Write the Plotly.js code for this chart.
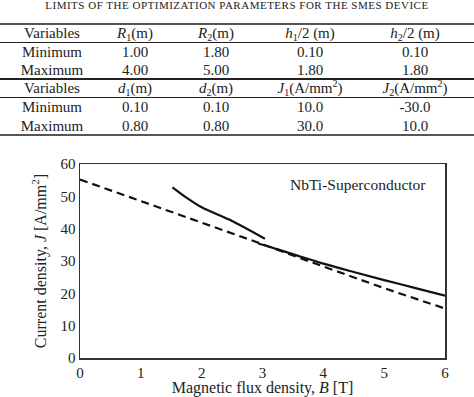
<!DOCTYPE html>
<html>
<head>
<meta charset="utf-8">
<script src="https://cdn.plot.ly/plotly-3.0.1.min.js"></script>
<style>
  html, body { margin:0; padding:0; background:#fff; }
  #wrap { position:relative; width:474px; height:397px; overflow:hidden; background:#fff; font-family:"Liberation Serif","DejaVu Serif",serif; color:#222; }
  #plot { position:absolute; left:0; top:0; width:474px; height:397px; }
  .cap { position:absolute; left:0; width:474px; text-align:center; font-size:11px; line-height:11px; top:0px; letter-spacing:0.5px; white-space:nowrap; }
  .rule { position:absolute; left:0; width:474px; background:#222; }
  .cell { position:absolute; font-size:15px; line-height:16px; white-space:nowrap; transform:translate(-50%,-50%); }
  .cell sub { font-size:10px; vertical-align:-3px; line-height:0; }
  .cell sup { font-size:10px; vertical-align:6px; line-height:0; }
</style>
</head>
<body>
<div id="wrap">
  <div id="plot"></div>
  <div class="cap">LIMITS OF THE OPTIMIZATION PARAMETERS FOR THE SMES DEVICE</div>
  <div id="table"></div>
</div>
<script>
// ---- Table data ----
const header1 = ["Variables", "<i>R</i><sub>1</sub>(m)", "<i>R</i><sub>2</sub>(m)", "<i>h</i><sub>1</sub>/2 (m)", "<i>h</i><sub>2</sub>/2 (m)"];
const minRow1 = ["Minimum", "1.00", "1.80", "0.10", "0.10"];
const maxRow1 = ["Maximum", "4.00", "5.00", "1.80", "1.80"];
const header2 = ["Variables", "<i>d</i><sub>1</sub>(m)", "<i>d</i><sub>2</sub>(m)", "<i>J</i><sub>1</sub>(A/mm<sup>2</sup>)", "<i>J</i><sub>2</sub>(A/mm<sup>2</sup>)"];
const minRow2 = ["Minimum", "0.10", "0.10", "10.0", "-30.0"];
const maxRow2 = ["Maximum", "0.80", "0.80", "30.0", "10.0"];

// ---- Chart data ----
const dashedB = [0, 1, 2, 3, 4, 5, 6];
const dashedJ = [55.2, 48.6, 41.9, 35.2, 28.3, 21.6, 15.3];
const solid1B = [1.52, 1.75, 2.0, 2.5, 3.04];
const solid1J = [52.8, 49.6, 46.6, 42.4, 36.9];
const solid2B = [2.93, 3.25, 3.6, 4.0, 4.5, 5.0, 5.5, 6.0];
const solid2J = [35.4, 33.6, 31.5, 29.2, 26.6, 24.1, 21.7, 19.3];
const xTicks = [0, 1, 2, 3, 4, 5, 6];
const yTicks = [0, 10, 20, 30, 40, 50, 60];

// ---- Table layout ----
const colX = [52, 135, 216, 310, 415];
const rowsData = [header1, minRow1, maxRow1, header2, minRow2, maxRow2];
const rowY = [33.3, 51.7, 70, 88.3, 107.3, 126];
const rules = [[22.5, 2, "#555"], [42, 1, "#222"], [78, 2, "#222"], [97, 1, "#222"], [134, 2, "#555"]];
const tbl = document.getElementById("table");
rules.forEach(r => {
  const d = document.createElement("div");
  d.className = "rule";
  d.style.top = r[0] + "px"; d.style.height = r[1] + "px"; d.style.background = r[2];
  tbl.appendChild(d);
});
rowsData.forEach((row, ri) => {
  row.forEach((txt, ci) => {
    const d = document.createElement("div");
    d.className = "cell";
    d.innerHTML = txt;
    d.style.left = colX[ci] + "px";
    d.style.top = rowY[ri] + "px";
    tbl.appendChild(d);
  });
});

// ---- Plot ----
const lineCol = "#111";
const traces = [
  { x: dashedB, y: dashedJ, mode: "lines", line: { color: lineCol, width: 2.2, dash: "8px,5px" }, hoverinfo: "skip" },
  { x: solid1B, y: solid1J, mode: "lines", line: { color: lineCol, width: 2.2, shape: "spline", smoothing: 0.8 }, hoverinfo: "skip" },
  { x: solid2B, y: solid2J, mode: "lines", line: { color: lineCol, width: 2.2, shape: "spline" }, hoverinfo: "skip" }
];
const font = { family: "Liberation Serif, DejaVu Serif, serif", color: "#222" };
const layout = {
  width: 474, height: 397,
  margin: { l: 80, r: 29, t: 164, b: 39 },
  paper_bgcolor: "rgba(0,0,0,0)", plot_bgcolor: "#fff",
  showlegend: false,
  font: Object.assign({ size: 15 }, font),
  xaxis: {
    range: [0, 6], tickvals: xTicks, ticktext: xTicks.map(String),
    showgrid: false, zeroline: false, showline: true, mirror: true,
    linecolor: "#333", linewidth: 1.5, ticks: "",
    tickfont: Object.assign({ size: 15 }, font),
    title: { text: "Magnetic flux density, <i>B</i> [T]", font: Object.assign({ size: 16 }, font), standoff: 6 }
  },
  yaxis: {
    range: [0, 60], tickvals: yTicks, ticktext: yTicks.map(String),
    showgrid: false, zeroline: false, showline: true, mirror: true,
    linecolor: "#333", linewidth: 1.5, ticks: "",
    tickfont: Object.assign({ size: 15 }, font),
    title: { text: "Current density, <i>J</i> [A/mm<sup>2</sup>]", font: Object.assign({ size: 16 }, font), standoff: 10 }
  },
  annotations: [{
    text: "NbTi-Superconductor", xref: "paper", yref: "paper",
    x: 0.953, y: 0.894, xanchor: "right", yanchor: "middle",
    showarrow: false, font: Object.assign({ size: 15.5 }, font)
  }]
};
Plotly.newPlot("plot", traces, layout, { staticPlot: true, displayModeBar: false });
</script>
</body>
</html>
